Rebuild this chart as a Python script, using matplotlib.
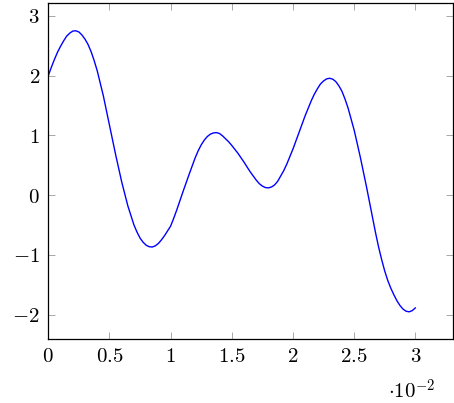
import matplotlib

matplotlib.use("Agg")
import matplotlib.pyplot as plt
from matplotlib.ticker import FuncFormatter

plt.rcParams["mathtext.fontset"] = "cm"
plt.rcParams["font.family"] = "serif"
plt.rcParams["font.serif"] = ["DejaVu Serif"]

# curve values (x in units of 1e-2), denser near the turns
x_vals = [0.000, 0.025, 0.050, 0.075, 0.100, 0.125, 0.150, 0.175, 0.200, 0.225,
          0.250, 0.275, 0.300, 0.325, 0.350, 0.375, 0.400, 0.450, 0.500, 0.550,
          0.600, 0.650, 0.700, 0.725, 0.750, 0.775, 0.800, 0.825, 0.850, 0.875,
          0.900, 0.925, 0.950, 0.975, 1.000, 1.025, 1.050, 1.075, 1.100, 1.150,
          1.200, 1.225, 1.250, 1.275, 1.300, 1.325, 1.350, 1.375, 1.400, 1.425,
          1.450, 1.475, 1.500, 1.550, 1.600, 1.650, 1.675, 1.700, 1.725, 1.750,
          1.775, 1.800, 1.825, 1.850, 1.875, 1.900, 1.925, 1.950, 2.000, 2.050,
          2.100, 2.150, 2.175, 2.200, 2.225, 2.250, 2.275, 2.300, 2.325, 2.350,
          2.375, 2.400, 2.425, 2.450, 2.500, 2.550, 2.600, 2.625, 2.650, 2.675,
          2.700, 2.725, 2.750, 2.775, 2.800, 2.825, 2.850, 2.875, 2.900, 2.925,
          2.950, 2.975, 3.000]
y_vals = [2.00, 2.14, 2.27, 2.39, 2.49, 2.58, 2.66, 2.71, 2.745, 2.75,
          2.73, 2.68, 2.61, 2.52, 2.40, 2.25, 2.08, 1.66, 1.17, 0.68,
          0.22, -0.18, -0.50, -0.62, -0.72, -0.79, -0.84, -0.865, -0.87, -0.85,
          -0.81, -0.75, -0.68, -0.60, -0.52, -0.39, -0.25, -0.10, 0.05, 0.34,
          0.62, 0.74, 0.84, 0.92, 0.98, 1.02, 1.04, 1.045, 1.03, 0.99,
          0.94, 0.89, 0.83, 0.70, 0.55, 0.39, 0.32, 0.25, 0.19, 0.15,
          0.125, 0.12, 0.135, 0.17, 0.23, 0.32, 0.41, 0.52, 0.77, 1.05,
          1.33, 1.58, 1.69, 1.78, 1.86, 1.91, 1.945, 1.955, 1.94, 1.90,
          1.83, 1.74, 1.61, 1.46, 1.09, 0.64, 0.15, -0.11, -0.37, -0.63,
          -0.87, -1.08, -1.27, -1.43, -1.56, -1.67, -1.77, -1.85, -1.91, -1.945,
          -1.955, -1.935, -1.89]
x_scale = 1e-2
x_ticks = [0, 0.5, 1, 1.5, 2, 2.5, 3]
y_ticks = [-2, -1, 0, 1, 2, 3]

fig = plt.figure(figsize=(4.54, 4.03), dpi=100)
ax = fig.add_axes([0.1064, 0.1588, 0.8905, 0.833])

ax.plot([v * x_scale for v in x_vals], y_vals, color="#0000ff", linewidth=1.0)

ax.set_xlim(0, 3.305 * x_scale)
ax.set_ylim(-2.41, 3.21)
ax.set_xticks([t * x_scale for t in x_ticks])
ax.set_yticks(y_ticks)
ax.xaxis.set_major_formatter(FuncFormatter(lambda v, p: "$%g$" % round(v / x_scale, 2)))
ax.yaxis.set_major_formatter(FuncFormatter(lambda v, p: "$%g$" % v))

ax.tick_params(direction="in", top=True, right=True, length=5, width=0.6,
               color="#9a9a9a", labelsize=15, pad=6)
for s in ax.spines.values():
    s.set_linewidth(0.9)
    s.set_color("black")

ax.text(0.90, -0.155, r"$\cdot 10^{-2}$", transform=ax.transAxes,
        ha="center", va="center", fontsize=15)

fig.savefig("out.png", dpi=100)
